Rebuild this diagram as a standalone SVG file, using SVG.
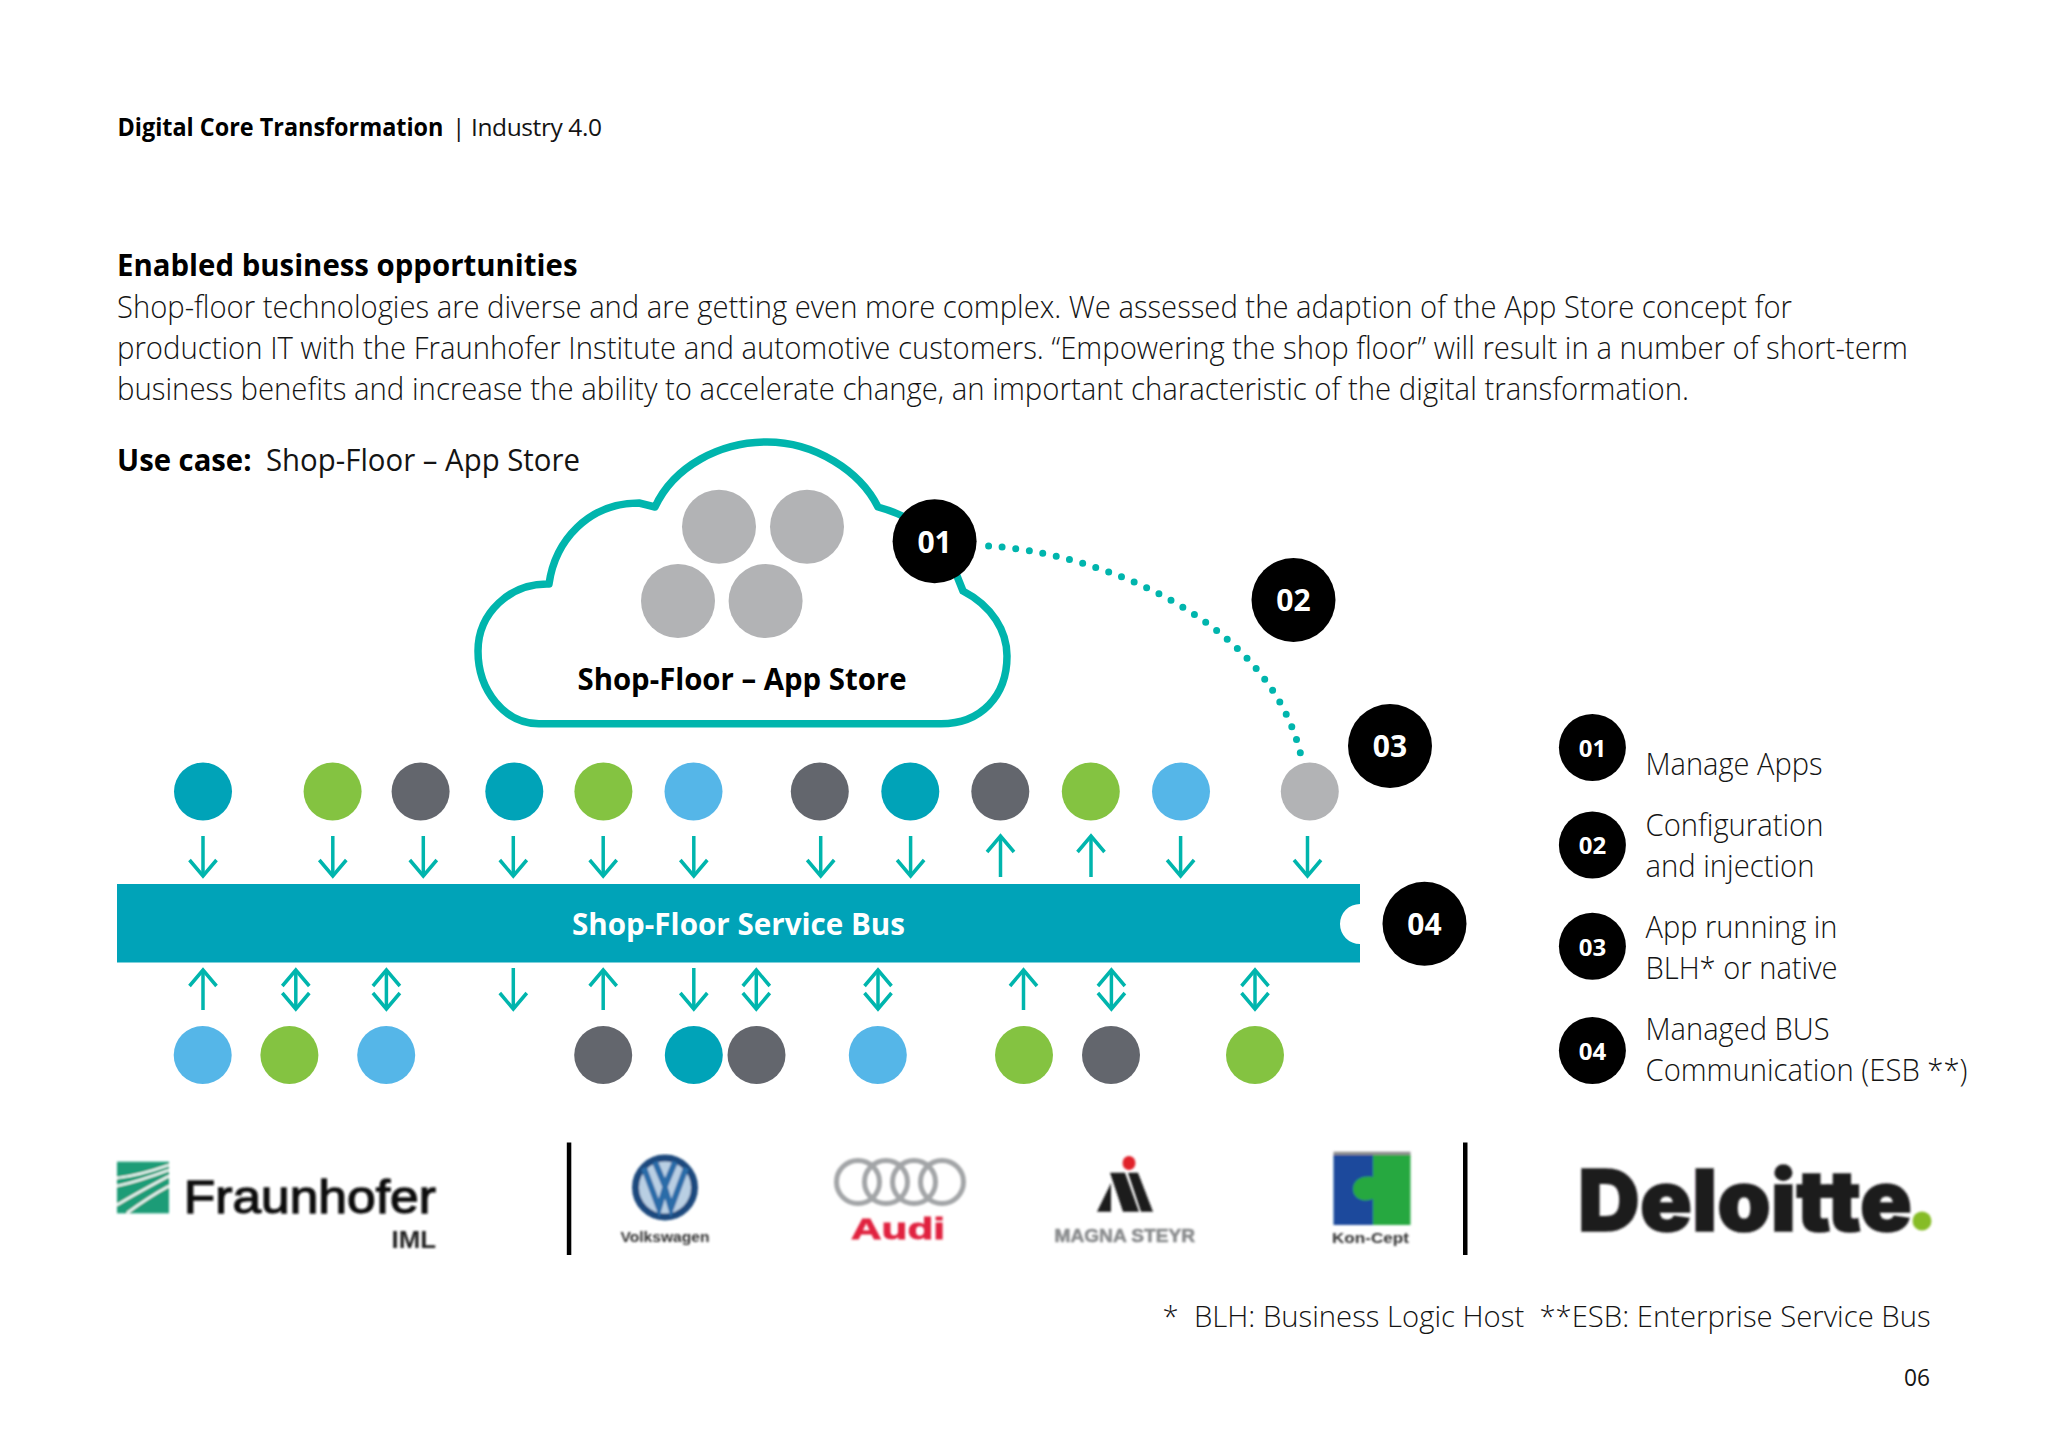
<svg xmlns="http://www.w3.org/2000/svg" width="2048" height="1443" viewBox="0 0 2048 1443">
<style>
text{font-family:"Open Sans","Noto Sans","Liberation Sans",sans-serif;fill:#141414}
.b{font-weight:700;fill:#000}
.body{font-size:31px;font-weight:300}
.leg{font-size:31px;font-weight:300}
.n{font-weight:700;fill:#fff;text-anchor:middle}
.big{font-size:30px}
.sm{font-size:24px}
.blk{fill:#000}
.g{fill:#b2b3b5}.t{fill:#00a3b8}.v{fill:#84c341}.d{fill:#63666d}.s{fill:#55b6e8}
.a{stroke:#00b5ad;stroke-width:3.5;fill:none;marker-end:url(#h)}
.u{marker-start:url(#h2);marker-end:none}
.w{marker-start:url(#h2)}
</style>
<defs>
<marker id="h" markerUnits="userSpaceOnUse" markerWidth="40" markerHeight="40" refX="20" refY="20" orient="auto" viewBox="0 0 40 40"><path d="M4 6.500L20 20L4 33.500" fill="none" stroke="#00b5ad" stroke-width="3.500"/></marker>
<marker id="h2" markerUnits="userSpaceOnUse" markerWidth="40" markerHeight="40" refX="20" refY="20" orient="auto-start-reverse" viewBox="0 0 40 40"><path d="M4 6.500L20 20L4 33.500" fill="none" stroke="#00b5ad" stroke-width="3.500"/></marker>
<filter id="bl" x="-5%" y="-5%" width="110%" height="110%"><feGaussianBlur stdDeviation="1"/></filter>
</defs>
<rect width="2048" height="1443" fill="#fff"/>
<g id="header">
<text x="117.500" y="136" class="b" font-size="24.500" textLength="326" lengthAdjust="spacingAndGlyphs">Digital Core Transformation</text>
<text x="452" y="136" font-size="24.500" textLength="150" lengthAdjust="spacing">| Industry 4.0</text>
</g>
<g id="intro">
<text x="117" y="276" class="b" font-size="31" textLength="460.500" lengthAdjust="spacingAndGlyphs">Enabled business opportunities</text>
<text x="117" y="317.500" class="body" textLength="1675" lengthAdjust="spacingAndGlyphs">Shop-floor technologies are diverse and are getting even more complex. We assessed the adaption of the App Store concept for</text>
<text x="117" y="359" class="body" textLength="1791" lengthAdjust="spacingAndGlyphs">production IT with the Fraunhofer Institute and automotive customers. “Empowering the shop floor” will result in a number of short-term</text>
<text x="117" y="400" class="body" textLength="1572" lengthAdjust="spacingAndGlyphs">business benefits and increase the ability to accelerate change, an important characteristic of the digital transformation.</text>
<text x="117" y="471" class="b" font-size="31" textLength="134.500" lengthAdjust="spacingAndGlyphs">Use case:</text>
<text x="266" y="471" font-size="31" textLength="314" lengthAdjust="spacingAndGlyphs">Shop-Floor – App Store</text>
</g>
<g id="cloud">
<path d="M539 723.700C505 723.700 478 691 478 651C478 613 510 583 549 584C555 541 588 503 639 503L655 507C674 466 720 442 767 442C815 442 860 471 878 507C900 513 925 526 945 546L963 591C992 606 1007 631 1007 656C1007 696 981 723.700 941 723.700Z" fill="#fff" stroke="#00b5ad" stroke-width="7.500" stroke-linejoin="round"/>
<circle class="g" cx="719" cy="526.700" r="37"/><circle class="g" cx="807" cy="526.700" r="37"/>
<circle class="g" cx="678" cy="601" r="37"/><circle class="g" cx="765.600" cy="601" r="37"/>
<text x="742" y="690" class="b" font-size="30" text-anchor="middle" textLength="329" lengthAdjust="spacingAndGlyphs">Shop-Floor – App Store</text>
</g>
<g id="connectors">
<path d="M988.600 546C1095 552 1272 618 1302 760" fill="none" stroke="#00b5ad" stroke-width="7" stroke-linecap="round" stroke-dasharray="0 13.700"/>
<line class="a" x1="203" y1="836" x2="203" y2="876"/><line class="a" x1="332.800" y1="836" x2="332.800" y2="876"/>
<line class="a" x1="423.300" y1="836" x2="423.300" y2="876"/><line class="a" x1="513.300" y1="836" x2="513.300" y2="876"/>
<line class="a" x1="603.200" y1="836" x2="603.200" y2="876"/><line class="a" x1="693.800" y1="836" x2="693.800" y2="876"/>
<line class="a" x1="820.700" y1="836" x2="820.700" y2="876"/><line class="a" x1="910.600" y1="836" x2="910.600" y2="876"/>
<line class="a u" x1="1000.500" y1="836" x2="1000.500" y2="877"/><line class="a u" x1="1091" y1="836" x2="1091" y2="877"/>
<line class="a" x1="1180.600" y1="836" x2="1180.600" y2="876"/><line class="a" x1="1307.500" y1="836" x2="1307.500" y2="876"/>
<line class="a u" x1="203" y1="970" x2="203" y2="1010"/><line class="a w" x1="295.800" y1="970" x2="295.800" y2="1009"/>
<line class="a w" x1="386.400" y1="970" x2="386.400" y2="1009"/><line class="a" x1="513.300" y1="968" x2="513.300" y2="1009"/>
<line class="a u" x1="603.200" y1="970" x2="603.200" y2="1010"/><line class="a" x1="693.800" y1="968" x2="693.800" y2="1009"/>
<line class="a w" x1="756.300" y1="970" x2="756.300" y2="1009"/><line class="a w" x1="878" y1="970" x2="878" y2="1009"/>
<line class="a u" x1="1023.500" y1="970" x2="1023.500" y2="1010"/><line class="a w" x1="1111.400" y1="970" x2="1111.400" y2="1009"/>
<line class="a w" x1="1255" y1="970" x2="1255" y2="1009"/>
</g>
<g id="bus">
<path class="t" d="M117 884H1360V904A20 20 0 0 0 1360 944V962.500H117Z"/>
<text x="738.500" y="935" font-size="30" class="n" textLength="333" lengthAdjust="spacingAndGlyphs">Shop-Floor Service Bus</text>
</g>
<g id="apps-top">
<circle class="t" cx="203" cy="791.500" r="29"/><circle class="v" cx="332.600" cy="791.500" r="29"/><circle class="d" cx="420.600" cy="791.500" r="29"/>
<circle class="t" cx="514.300" cy="791.500" r="29"/><circle class="v" cx="603.400" cy="791.500" r="29"/><circle class="s" cx="693.500" cy="791.500" r="29"/>
<circle class="d" cx="819.800" cy="791.500" r="29"/><circle class="t" cx="910.300" cy="791.500" r="29"/><circle class="d" cx="1000.300" cy="791.500" r="29"/>
<circle class="v" cx="1090.800" cy="791.500" r="29"/><circle class="s" cx="1181" cy="791.500" r="29"/><circle class="g" cx="1309.800" cy="791.500" r="29"/>
</g>
<g id="apps-bottom">
<circle class="s" cx="202.700" cy="1055" r="29"/><circle class="v" cx="289.400" cy="1055" r="29"/><circle class="s" cx="386.200" cy="1055" r="29"/>
<circle class="d" cx="603.200" cy="1055" r="29"/><circle class="t" cx="693.800" cy="1055" r="29"/><circle class="d" cx="756.500" cy="1055" r="29"/>
<circle class="s" cx="877.800" cy="1055" r="29"/><circle class="v" cx="1024" cy="1055" r="29"/><circle class="d" cx="1111" cy="1055" r="29"/><circle class="v" cx="1255" cy="1055" r="29"/>
</g>
<g id="badge-01"><circle class="blk" cx="934.600" cy="541.200" r="42"/><text x="934.600" y="552.500" class="n big">01</text></g>
<g id="badge-02"><circle class="blk" cx="1293.500" cy="600" r="42"/><text x="1293.500" y="610.500" class="n big">02</text></g>
<g id="badge-03"><circle class="blk" cx="1390" cy="746" r="42"/><text x="1390" y="757" class="n big">03</text></g>
<g id="badge-04"><circle class="blk" cx="1424.500" cy="923.700" r="42"/><text x="1424.500" y="935" class="n big">04</text></g>
<g id="legend-01"><circle class="blk" cx="1592.400" cy="747.500" r="33.500"/><text x="1592.400" y="756.500" class="n sm">01</text>
<text x="1645.500" y="775" class="leg" textLength="177" lengthAdjust="spacingAndGlyphs">Manage Apps</text></g>
<g id="legend-02"><circle class="blk" cx="1592.400" cy="845" r="33.500"/><text x="1592.400" y="854" class="n sm">02</text>
<text x="1645.500" y="835.500" class="leg" textLength="178" lengthAdjust="spacingAndGlyphs">Configuration</text><text x="1645.500" y="877" class="leg" textLength="169" lengthAdjust="spacingAndGlyphs">and injection</text></g>
<g id="legend-03"><circle class="blk" cx="1592.400" cy="946.200" r="33.500"/><text x="1592.400" y="955.500" class="n sm">03</text>
<text x="1645.500" y="937.500" class="leg" textLength="192" lengthAdjust="spacingAndGlyphs">App running in</text><text x="1645.500" y="979" class="leg" textLength="192" lengthAdjust="spacingAndGlyphs">BLH* or native</text></g>
<g id="legend-04"><circle class="blk" cx="1592.400" cy="1050.500" r="33.500"/><text x="1592.400" y="1059.500" class="n sm">04</text>
<text x="1645.500" y="1039.500" class="leg" textLength="184" lengthAdjust="spacingAndGlyphs">Managed BUS</text><text x="1645.500" y="1081" class="leg" textLength="322" lengthAdjust="spacingAndGlyphs">Communication (ESB **)</text></g>
<g id="dividers"><rect class="blk" x="566.800" y="1142.500" width="4.500" height="112.500"/><rect class="blk" x="1463" y="1142.500" width="4.500" height="112.500"/></g>
<g id="logo-fraunhofer" filter="url(#bl)">
<rect x="117" y="1161.700" width="52" height="51.600" fill="#1f9c77"/>
<path d="M117 1178C135 1176 152 1171 169 1165M117 1186C136 1182 153 1176 169 1170M117 1205C135 1194 152 1185 169 1176M127 1213C142 1202 156 1193 169 1186" fill="none" stroke="#fff" stroke-width="2.200"/>
<text x="183.800" y="1212.700" style="font-family:'Liberation Sans',sans-serif;fill:#111;stroke:#111;stroke-width:1.300" font-size="47" textLength="252" lengthAdjust="spacingAndGlyphs">Fraunhofer</text>
<text x="391.500" y="1248" style="font-family:'Liberation Sans',sans-serif;fill:#222;font-weight:700" font-size="24" textLength="44.500" lengthAdjust="spacingAndGlyphs">IML</text>
</g>
<g id="logo-volkswagen" filter="url(#bl)">
<circle cx="665" cy="1187.500" r="29.500" fill="#b9cfe3" stroke="#1f4a7e" stroke-width="7"/>
<path d="M644 1168L659 1208L665 1188L671 1208L686 1168M655 1162L665 1186L675 1162" fill="none" stroke="#2b6ca8" stroke-width="6"/>
<text x="665" y="1241.700" text-anchor="middle" style="font-family:'Liberation Sans',sans-serif;fill:#333;font-weight:700" font-size="14" textLength="89" lengthAdjust="spacingAndGlyphs">Volkswagen</text>
</g>
<g id="logo-audi" filter="url(#bl)">
<g fill="none" stroke="#a3a5a7" stroke-width="5"><circle cx="858" cy="1182" r="21.500"/><circle cx="886" cy="1182" r="21.500"/><circle cx="914" cy="1182" r="21.500"/><circle cx="942" cy="1182" r="21.500"/></g>
<text x="851" y="1238.500" style="font-family:'Liberation Sans',sans-serif;fill:#e0213f;font-weight:700;stroke:#e0213f;stroke-width:0.800" font-size="30" textLength="94" lengthAdjust="spacingAndGlyphs">Audi</text>
</g>
<g id="logo-magna" filter="url(#bl)">
<ellipse cx="1129" cy="1163" rx="6.500" ry="7" fill="#e0212c"/>
<path d="M1097 1211.700L1111 1183V1211.700ZM1110 1172.700H1125L1139 1211.700H1123ZM1128 1172.700H1138L1153 1211.700H1141Z" fill="#1a1a1a"/>
<text x="1054.500" y="1241.500" style="font-family:'Liberation Sans',sans-serif;fill:#8a8c8e;font-weight:700;stroke:#8a8c8e;stroke-width:0.600" font-size="19" textLength="140.500" lengthAdjust="spacingAndGlyphs">MAGNA STEYR</text>
</g>
<g id="logo-koncept" filter="url(#bl)">
<rect x="1333.500" y="1151.700" width="77" height="4" fill="#8e8f8f"/>
<rect x="1333.500" y="1155" width="39.500" height="70" fill="#1d4a9c"/><rect x="1373" y="1155" width="37.500" height="70" fill="#25a83f"/>
<path d="M1373 1177C1362 1175 1353 1180 1353 1189C1353 1198 1362 1203 1373 1199Z" fill="#25a83f"/>
<text x="1332" y="1243" style="font-family:'Liberation Sans',sans-serif;fill:#333;font-weight:700" font-size="15" textLength="77" lengthAdjust="spacingAndGlyphs">Kon-Cept</text>
</g>
<g id="logo-deloitte" filter="url(#bl)">
<text x="1578" y="1231" style="font-family:'Inter','Liberation Sans',sans-serif;font-weight:900;fill:#1e1c1e;stroke:#1e1c1e;stroke-width:1.500" font-size="85" textLength="334" lengthAdjust="spacingAndGlyphs">Deloitte</text>
<circle cx="1922" cy="1221" r="9.500" fill="#86bc25"/>
</g>
<g id="footer">
<text x="1162.600" y="1327" font-size="29.500" font-weight="300" textLength="768" lengthAdjust="spacingAndGlyphs" xml:space="preserve">*  BLH: Business Logic Host  **ESB: Enterprise Service Bus</text>
<text x="1904" y="1386" font-size="24" textLength="26" lengthAdjust="spacingAndGlyphs">06</text>
</g>
</svg>
